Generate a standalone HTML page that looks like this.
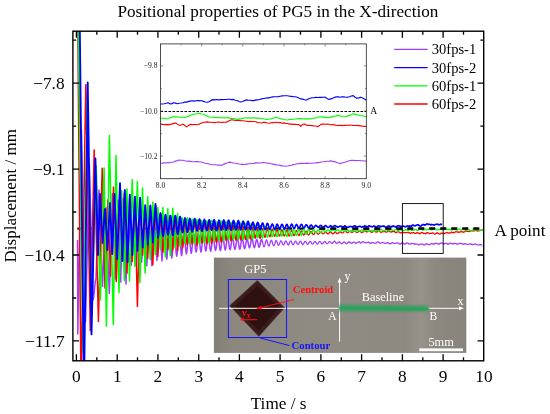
<!DOCTYPE html>
<html lang="en"><head><meta charset="utf-8"><title>Positional properties of PG5 in the X-direction</title>
<style>html,body{margin:0;padding:0;background:#fff}svg{display:block}</style></head>
<body>
<svg width="550" height="414" viewBox="0 0 550 414" font-family="'Liberation Serif', serif">
<rect width="550" height="414" fill="#fff"/>
<defs><clipPath id="cp"><rect x="72.9" y="31.2" width="410.79999999999995" height="329.6"/></clipPath><filter id="bl2" x="-10%" y="-100%" width="120%" height="300%"><feGaussianBlur stdDeviation="1.1"/></filter><filter id="bl3" x="-10%" y="-10%" width="120%" height="120%"><feGaussianBlur stdDeviation="0.5"/></filter><linearGradient id="pg" x1="0" x2="1" y1="0" y2="0"><stop offset="0" stop-color="#827d75"/><stop offset="0.08" stop-color="#8c877f"/><stop offset="0.5" stop-color="#8f8a82"/><stop offset="0.76" stop-color="#8d8880"/><stop offset="0.82" stop-color="#97928a"/><stop offset="0.88" stop-color="#8c877f"/><stop offset="1" stop-color="#88837b"/></linearGradient></defs>
<text x="277.9" y="16.5" font-size="17.15" text-anchor="middle" fill="#000">Positional properties of PG5 in the X-direction</text>
<g clip-path="url(#cp)">
<line x1="77.4" y1="228.6" x2="483.7" y2="228.6" stroke="#000" stroke-width="2.3" stroke-dasharray="5.8 5.2"/>
<path d="M77.5 240.0 L77.6 258.8 L77.6 277.6 L77.7 296.4 L77.8 315.2 L77.8 334.0 L78.5 293.2 L79.3 252.4 L80.0 211.6 L80.8 170.8 L81.5 130.0 L82.3 168.4 L83.1 206.8 L83.9 245.2 L84.7 283.6 L85.5 322.0 L86.3 290.6 L87.1 259.2 L87.8 227.8 L88.6 196.4 L89.4 165.0 L90.1 192.0 L90.8 219.0 L91.6 246.0 L92.3 273.0 L93.0 300.0 L93.6 298.0 L94.2 292.7 L94.8 286.3 L95.4 281.0 L96.0 279.0 L96.6 261.2 L97.2 243.4 L97.8 225.6 L98.4 207.8 L99.0 190.0 L99.7 209.3 L100.4 228.6 L101.1 247.9 L101.8 267.2 L102.5 286.5 L103.2 270.8 L103.9 255.0 L104.6 239.3 L105.4 223.6 L106.1 207.8 L106.7 225.0 L107.4 242.2 L108.0 259.3 L108.7 276.5 L109.3 293.6 L110.0 273.6 L110.6 253.7 L111.2 233.7 L111.8 213.7 L112.4 193.7 L113.0 210.8 L113.5 227.9 L114.1 245.0 L114.7 262.1 L115.3 279.1 L115.8 263.4 L116.4 247.6 L117.0 231.8 L117.5 216.0 L118.1 200.2 L118.6 216.6 L119.1 232.9 L119.7 249.3 L120.2 265.6 L120.7 282.0 L121.2 265.3 L121.8 248.6 L122.3 231.9 L122.8 215.2 L123.4 198.5 L123.9 215.6 L124.4 232.8 L124.9 249.9 L125.5 267.0 L126.0 284.1 L126.5 270.3 L127.0 256.4 L127.6 242.6 L128.1 228.7 L128.6 214.9 L129.1 225.0 L129.7 235.1 L130.2 245.2 L130.7 255.3 L131.2 265.4 L131.8 254.6 L132.3 243.9 L132.8 233.1 L133.3 222.4 L133.8 211.7 L134.4 222.6 L134.9 233.6 L135.4 244.6 L135.9 255.6 L136.4 266.5 L137.0 256.3 L137.5 246.0 L138.0 235.7 L138.5 225.4 L139.0 215.1 L139.5 224.5 L140.1 233.9 L140.6 243.4 L141.1 252.8 L141.6 262.2 L142.1 253.3 L142.6 244.5 L143.2 235.6 L143.7 226.7 L144.2 217.8 L144.7 227.4 L145.2 237.0 L145.7 246.5 L146.2 256.1 L146.8 265.7 L147.3 256.4 L147.8 247.2 L148.3 238.0 L148.8 228.8 L149.3 219.5 L149.8 228.8 L150.3 238.0 L150.9 247.3 L151.4 256.5 L151.9 265.8 L152.4 256.3 L152.9 246.8 L153.4 237.3 L153.9 227.8 L154.4 218.3 L154.9 226.7 L155.4 235.1 L155.9 243.5 L156.4 252.0 L156.9 260.4 L157.4 253.0 L157.9 245.7 L158.4 238.3 L159.0 230.9 L159.5 223.5 L160.0 231.0 L160.5 238.5 L161.0 245.9 L161.5 253.4 L162.0 260.9 L162.5 253.1 L163.0 245.4 L163.5 237.7 L164.0 229.9 L164.4 222.2 L164.9 229.5 L165.4 236.9 L165.9 244.3 L166.4 251.7 L166.9 259.1 L167.4 252.4 L167.9 245.8 L168.4 239.2 L168.9 232.6 L169.4 226.0 L169.9 232.4 L170.4 238.8 L170.9 245.1 L171.4 251.5 L171.8 257.9 L172.3 255.1 L172.8 247.6 L173.3 238.4 L173.8 230.9 L174.3 228.1 L174.8 230.8 L175.3 237.8 L175.7 246.5 L176.2 253.5 L176.7 256.2 L177.2 253.6 L177.7 246.7 L178.2 238.3 L178.7 231.4 L179.1 228.8 L179.6 231.4 L180.1 238.1 L180.6 246.4 L181.1 253.1 L181.6 255.6 L182.0 253.3 L182.5 247.1 L183.0 239.4 L183.5 233.3 L184.0 230.9 L184.5 233.1 L185.0 238.8 L185.4 246.0 L185.9 251.7 L186.4 253.9 L186.9 251.9 L187.4 246.5 L187.9 239.9 L188.4 234.6 L188.8 232.6 L189.3 234.5 L189.8 239.7 L190.3 246.1 L190.8 251.3 L191.3 253.3 L191.7 251.4 L192.2 246.5 L192.7 240.4 L193.2 235.5 L193.7 233.7 L194.2 235.4 L194.7 240.0 L195.1 245.7 L195.6 250.3 L196.1 252.0 L196.6 250.3 L197.1 245.8 L197.6 240.2 L198.1 235.7 L198.5 234.0 L199.0 235.7 L199.5 240.3 L200.0 245.8 L200.5 250.4 L201.0 252.1 L201.4 250.5 L201.9 246.3 L202.4 241.1 L202.9 236.8 L203.4 235.2 L203.9 236.7 L204.4 240.6 L204.8 245.5 L205.3 249.4 L205.8 250.9 L206.3 249.4 L206.8 245.5 L207.3 240.7 L207.8 236.8 L208.2 235.3 L208.7 236.9 L209.2 240.9 L209.7 245.8 L210.2 249.8 L210.7 251.3 L211.1 249.9 L211.6 246.3 L212.1 241.7 L212.6 238.1 L213.1 236.6 L213.6 238.0 L214.1 241.4 L214.5 245.7 L215.0 249.1 L215.5 250.4 L216.0 249.1 L216.5 245.6 L217.0 241.2 L217.5 237.7 L217.9 236.3 L218.4 237.7 L218.9 241.2 L219.4 245.6 L219.9 249.2 L220.4 250.5 L220.8 249.2 L221.3 245.6 L221.8 241.3 L222.3 237.8 L222.8 236.4 L223.3 237.7 L223.8 241.1 L224.2 245.2 L224.7 248.6 L225.2 249.9 L225.7 248.7 L226.2 245.4 L226.7 241.4 L227.2 238.1 L227.6 236.9 L228.1 238.1 L228.6 241.3 L229.1 245.3 L229.6 248.6 L230.1 249.8 L230.5 248.7 L231.0 245.6 L231.5 241.9 L232.0 238.8 L232.5 237.7 L233.0 238.8 L233.5 241.7 L233.9 245.4 L234.4 248.3 L234.9 249.4 L235.4 248.3 L235.9 245.3 L236.4 241.6 L236.9 238.6 L237.3 237.5 L237.8 238.6 L238.3 241.6 L238.8 245.2 L239.3 248.2 L239.8 249.3 L240.2 248.2 L240.7 245.4 L241.2 242.0 L241.7 239.2 L242.2 238.1 L242.7 239.1 L243.2 241.8 L243.6 245.0 L244.1 247.6 L244.6 248.6 L245.1 247.7 L245.6 245.2 L246.1 242.2 L246.6 239.8 L247.0 238.8 L247.5 239.7 L248.0 242.0 L248.5 244.8 L249.0 247.1 L249.5 247.9 L249.9 247.0 L250.4 244.7 L250.9 241.8 L251.4 239.5 L251.9 238.6 L252.4 239.5 L252.9 241.7 L253.3 244.5 L253.8 246.7 L254.3 247.6 L254.8 246.8 L255.3 244.7 L255.8 242.2 L256.3 240.2 L256.7 239.4 L257.2 240.1 L257.7 242.1 L258.2 244.5 L258.7 246.5 L259.2 247.2 L259.6 246.5 L260.1 244.5 L260.6 242.1 L261.1 240.1 L261.6 239.4" fill="none" stroke="#a33cff" stroke-width="1.5" stroke-linejoin="round"/>
<path d="M260.1 244.5 L260.6 242.1 L261.1 240.1 L261.6 239.4 L262.1 240.1 L262.6 242.0 L263.0 244.2 L263.5 246.1 L264.0 246.8 L264.5 246.1 L265.0 244.4 L265.5 242.3 L266.0 240.6 L266.4 239.9 L266.9 240.5 L267.4 242.1 L267.9 244.0 L268.4 245.6 L268.9 246.2 L269.3 245.7 L269.8 244.1 L270.3 242.3 L270.8 240.8 L271.3 240.2 L271.8 240.7 L272.3 242.2 L272.7 243.9 L273.2 245.4 L273.7 245.9 L274.2 245.4 L274.7 244.0 L275.2 242.4 L275.7 241.0 L276.1 240.5 L276.6 241.0 L277.1 242.2 L277.6 243.7 L278.1 244.8 L278.6 245.3 L279.0 244.9 L279.5 243.8 L280.0 242.4 L280.5 241.3 L281.0 240.8 L281.5 241.2 L282.0 242.3 L282.4 243.5 L282.9 244.6 L283.4 245.0 L283.9 244.6 L284.4 243.6 L284.9 242.4 L285.4 241.4 L285.8 241.0 L286.3 241.4 L286.8 242.4 L287.3 243.6 L287.8 244.6 L288.3 245.0 L288.7 244.6 L289.2 243.6 L289.7 242.3 L290.2 241.3 L290.7 240.9 L291.2 241.3 L291.7 242.2 L292.1 243.5 L292.6 244.4 L293.1 244.8 L293.6 244.5 L294.1 243.5 L294.6 242.4 L295.1 241.5 L295.5 241.1 L296.0 241.5 L296.5 242.3 L297.0 243.4 L297.5 244.2 L298.0 244.6 L298.4 244.3 L298.9 243.4 L299.4 242.4 L299.9 241.5 L300.4 241.2 L300.9 241.5 L301.4 242.4 L301.8 243.4 L302.3 244.3 L302.8 244.6 L303.3 244.3 L303.8 243.4 L304.3 242.4 L304.8 241.6 L305.2 241.2 L305.7 241.5 L306.2 242.2 L306.7 243.2 L307.2 244.1 L307.7 244.4 L308.1 244.1 L308.6 243.3 L309.1 242.4 L309.6 241.7 L310.1 241.3 L310.6 241.5 L311.1 242.2 L311.5 243.2 L312.0 244.0 L312.5 244.2 L313.0 243.9 L313.5 243.3 L314.0 242.4 L314.5 241.7 L314.9 241.4 L315.4 241.8 L315.9 242.4 L316.4 243.1 L316.9 243.8 L317.4 244.1 L317.8 243.9 L318.3 243.3 L318.8 242.4 L319.3 241.6 L319.8 241.5 L320.3 241.8 L320.8 242.3 L321.2 243.1 L321.7 243.8 L322.2 243.9 L322.7 243.6 L323.2 242.9 L323.7 242.2 L324.2 241.7 L324.6 241.4 L325.1 241.7 L325.6 242.4 L326.1 242.9 L326.6 243.7 L327.1 243.7 L327.5 243.7 L328.0 243.2 L328.5 242.5 L329.0 241.7 L329.5 241.7 L330.0 241.8 L330.5 242.4 L330.9 242.8 L331.4 243.4 L331.9 243.3 L332.4 243.4 L332.9 242.7 L333.4 242.1 L333.9 241.5 L334.3 241.2 L334.8 241.4 L335.3 241.8 L335.8 242.8 L336.3 243.4 L336.8 243.6 L337.2 243.1 L337.7 242.9 L338.2 242.6 L338.7 242.0 L339.2 241.8 L339.7 242.1 L340.2 242.3 L340.6 243.0 L341.1 243.4 L341.6 243.8 L342.1 243.5 L342.6 243.2 L343.1 242.7 L343.6 242.2 L344.0 241.9 L344.5 242.1 L345.0 242.5 L345.5 243.2 L346.0 243.4 L346.5 243.6 L346.9 243.6 L347.4 243.2 L347.9 242.5 L348.4 241.9 L348.9 241.8 L349.4 242.3 L349.9 242.1 L350.3 242.7 L350.8 242.8 L351.3 243.2 L351.8 243.4 L352.3 243.0 L352.8 242.3 L353.3 242.3 L353.7 242.0 L354.2 242.0 L354.7 242.3 L355.2 243.0 L355.7 243.6 L356.2 243.3 L356.6 243.0 L357.1 242.6 L357.6 242.3 L358.1 242.1 L358.6 242.0 L359.1 241.7 L359.6 241.9 L360.0 242.6 L360.5 243.2 L361.0 242.9 L361.5 242.6 L362.0 242.3 L362.5 241.8 L363.0 241.7 L363.4 241.8 L363.9 242.3 L364.4 242.3 L364.9 242.5 L365.4 242.8 L365.9 242.8 L366.3 242.7 L366.8 242.6 L367.3 242.5 L367.8 242.3 L368.3 241.9 L368.8 242.3 L369.3 242.4 L369.7 243.0 L370.2 243.2 L370.7 243.4 L371.2 243.3 L371.7 242.7 L372.2 242.7 L372.7 242.5 L373.1 242.5 L373.6 242.8 L374.1 243.0 L374.6 243.3 L375.1 243.3 L375.6 243.2 L376.0 243.2 L376.5 242.6 L377.0 242.1 L377.5 241.9 L378.0 242.1 L378.5 241.9 L379.0 242.4 L379.4 242.9 L379.9 243.1 L380.4 243.0 L380.9 243.0 L381.4 242.9 L381.9 242.7 L382.4 242.6 L382.8 242.3 L383.3 242.7 L383.8 243.0 L384.3 243.3 L384.8 243.3 L385.3 243.4 L385.7 243.1 L386.2 243.2 L386.7 243.2 L387.2 242.9 L387.7 242.6 L388.2 242.7 L388.7 243.4 L389.1 243.5 L389.6 243.6 L390.1 244.0 L390.6 243.7 L391.1 243.5 L391.6 243.1 L392.1 242.7 L392.5 242.6 L393.0 242.8 L393.5 243.2 L394.0 243.5 L394.5 243.6 L395.0 243.4 L395.4 243.4 L395.9 243.2 L396.4 242.9 L396.9 242.8 L397.4 242.9 L397.9 243.1 L398.4 243.2 L398.8 243.7 L399.3 243.8 L399.8 244.1 L400.3 244.2 L400.8 243.7 L401.3 243.6 L401.8 243.0 L402.2 243.1 L402.7 243.0 L403.2 243.5 L403.7 243.4 L404.2 244.0 L404.7 243.9 L405.1 244.1 L405.6 244.0 L406.1 243.3 L406.6 242.9 L407.1 243.1 L407.6 243.0 L408.1 243.1 L408.5 243.9 L409.0 243.9 L409.5 244.2 L410.0 244.2 L410.5 243.9 L411.0 243.6 L411.5 243.2 L411.9 243.5 L412.4 243.5 L412.9 243.6 L413.4 243.6 L413.9 243.6 L414.4 244.2 L414.8 244.4 L415.3 244.1 L415.8 243.9 L416.3 244.0 L416.8 244.1 L417.3 244.2 L417.8 244.2 L418.2 244.7 L418.7 244.9 L419.2 244.8 L419.7 244.4 L420.2 244.3 L420.7 244.0 L421.2 244.0 L421.6 244.2 L422.1 244.0 L422.6 244.2 L423.1 244.4 L423.6 244.8 L424.1 245.0 L424.5 244.6 L425.0 244.7 L425.5 244.3 L426.0 243.9 L426.5 243.6 L427.0 244.0 L427.5 244.1 L427.9 244.4 L428.4 244.7 L428.9 244.5 L429.4 244.7 L429.9 244.6 L430.4 244.1 L430.9 243.7 L431.3 243.4 L431.8 243.6 L432.3 243.9 L432.8 243.9 L433.3 244.2 L433.8 244.3 L434.2 243.8 L434.7 243.4 L435.2 243.4 L435.7 243.5 L436.2 243.1 L436.7 243.6 L437.2 243.8 L437.6 243.8 L438.1 243.7 L438.6 244.1 L439.1 243.9 L439.6 244.0 L440.1 243.4 L440.6 243.2 L441.0 242.8 L441.5 242.8 L442.0 243.2 L442.5 243.3 L443.0 243.6 L443.5 243.8 L443.9 244.1 L444.4 243.7 L444.9 243.7 L445.4 243.5 L445.9 243.2 L446.4 243.4 L446.9 243.6 L447.3 243.7 L447.8 244.2 L448.3 244.4 L448.8 243.8 L449.3 243.6 L449.8 243.2 L450.3 243.0 L450.7 243.1 L451.2 243.3 L451.7 243.5 L452.2 243.5 L452.7 244.0 L453.2 243.7 L453.6 243.9 L454.1 243.6 L454.6 243.3 L455.1 243.3 L455.6 243.7 L456.1 243.6 L456.6 244.0 L457.0 244.0 L457.5 244.3 L458.0 243.9 L458.5 243.9 L459.0 243.7 L459.5 243.4 L460.0 243.4 L460.4 243.2 L460.9 243.5 L461.4 243.4 L461.9 243.9 L462.4 243.8 L462.9 244.1 L463.3 244.4 L463.8 244.2 L464.3 243.9 L464.8 243.7 L465.3 244.0 L465.8 243.8 L466.3 243.9 L466.7 244.1 L467.2 244.3 L467.7 244.4 L468.2 244.5 L468.7 244.4 L469.2 244.0 L469.7 243.8 L470.1 243.8 L470.6 244.1 L471.1 244.0 L471.6 244.5 L472.1 244.3 L472.6 244.8 L473.0 244.6 L473.5 244.5 L474.0 244.1 L474.5 244.0 L475.0 244.1 L475.5 243.9 L476.0 244.3 L476.4 244.5 L476.9 244.8 L477.4 244.8 L477.9 244.9 L478.4 245.0 L478.9 244.9 L479.4 244.8 L479.8 244.7 L480.3 244.6 L480.8 244.5 L481.3 245.1 L481.8 245.0 L482.3 245.0" fill="none" stroke="#a33cff" stroke-width="1.25" stroke-linejoin="round"/>
<path d="M77.2 -40.0 L78.0 45.0 L78.7 130.0 L79.5 215.0 L80.2 300.0 L81.0 385.0 L82.0 325.0 L82.9 264.9 L83.9 204.9 L84.8 144.8 L85.8 84.8 L86.7 134.0 L87.6 183.2 L88.5 232.4 L89.4 281.6 L90.3 330.8 L91.1 294.6 L91.9 258.5 L92.6 222.3 L93.4 186.2 L94.2 150.0 L95.0 184.3 L95.9 218.6 L96.7 253.0 L97.6 287.3 L98.4 321.6 L99.2 290.9 L99.9 260.2 L100.7 229.6 L101.4 198.9 L102.2 168.2 L102.8 192.2 L103.3 216.1 L103.9 240.1 L104.4 264.0 L105.0 288.0 L105.6 270.4 L106.1 252.8 L106.7 235.2 L107.2 217.6 L107.8 200.0 L108.3 215.2 L108.9 230.4 L109.4 245.6 L110.0 260.8 L110.5 276.0 L111.1 258.2 L111.7 240.4 L112.3 222.5 L112.9 204.7 L113.5 186.9 L114.1 205.8 L114.6 224.7 L115.2 243.6 L115.8 262.6 L116.3 281.5 L116.9 267.8 L117.4 254.0 L118.0 240.3 L118.5 226.6 L119.1 212.9 L119.6 221.6 L120.1 230.4 L120.7 239.2 L121.2 247.9 L121.7 256.7 L122.2 243.9 L122.8 231.1 L123.3 218.4 L123.8 205.6 L124.4 192.9 L124.9 208.9 L125.4 225.0 L125.9 241.1 L126.5 257.1 L127.0 273.2 L127.5 258.0 L128.0 242.9 L128.6 227.8 L129.1 212.6 L129.6 197.5 L130.1 210.3 L130.6 223.1 L131.2 235.9 L131.7 248.7 L132.2 261.5 L132.7 249.1 L133.3 236.7 L133.8 224.3 L134.3 211.9 L134.8 199.4 L135.3 220.8 L135.9 242.3 L136.4 263.7 L136.9 285.1 L137.4 306.5 L137.9 285.7 L138.5 264.9 L139.0 244.0 L139.5 223.2 L140.0 202.4 L140.5 212.9 L141.0 223.5 L141.6 234.0 L142.1 244.5 L142.6 255.1 L143.1 245.7 L143.6 236.2 L144.1 226.8 L144.6 217.4 L145.2 208.0 L145.7 218.0 L146.2 228.0 L146.7 238.0 L147.2 248.1 L147.7 258.1 L148.2 247.6 L148.8 237.0 L149.3 226.5 L149.8 216.0 L150.3 205.5 L150.8 217.3 L151.3 229.1 L151.8 241.0 L152.3 252.8 L152.8 264.7 L153.3 252.8 L153.8 240.8 L154.4 228.9 L154.9 217.0 L155.4 205.1 L155.9 215.3 L156.4 225.6 L156.9 235.9 L157.4 246.1 L157.9 256.4 L158.4 247.7 L158.9 239.0 L159.4 230.3 L159.9 221.6 L160.4 212.9 L160.9 220.7 L161.4 228.6 L161.9 236.4 L162.4 244.3 L162.9 252.1 L163.4 245.2 L163.9 238.2 L164.4 231.2 L164.9 224.3 L165.4 217.3 L165.9 223.7 L166.4 230.2 L166.9 236.6 L167.4 243.0 L167.9 249.4 L168.4 242.7 L168.8 235.9 L169.3 229.2 L169.8 222.4 L170.3 215.7 L170.8 222.5 L171.3 229.4 L171.8 236.2 L172.3 243.1 L172.8 250.0 L173.3 243.4 L173.7 236.9 L174.2 230.4 L174.7 223.8 L175.2 217.3 L175.7 223.9 L176.2 230.5 L176.7 237.1 L177.1 243.8 L177.6 250.4 L178.1 243.9 L178.6 237.5 L179.1 231.1 L179.6 224.7 L180.1 218.2 L180.5 221.0 L181.0 228.4 L181.5 237.6 L182.0 244.9 L182.5 247.8 L183.0 245.1 L183.4 238.3 L183.9 229.9 L184.4 223.0 L184.9 220.4 L185.4 222.7 L185.9 228.8 L186.4 236.4 L186.8 242.5 L187.3 244.8 L187.8 242.6 L188.3 236.8 L188.8 229.6 L189.3 223.7 L189.8 221.5 L190.2 223.7 L190.7 229.3 L191.2 236.3 L191.7 241.9 L192.2 244.1 L192.7 241.9 L193.1 236.3 L193.6 229.3 L194.1 223.7 L194.6 221.6 L195.1 223.8 L195.6 229.8 L196.1 237.1 L196.5 243.1 L197.0 245.4 L197.5 243.1 L198.0 237.2 L198.5 229.9 L199.0 223.9 L199.5 221.7 L199.9 223.7 L200.4 229.1 L200.9 235.7 L201.4 241.0 L201.9 243.0 L202.4 241.0 L202.8 235.7 L203.3 229.1 L203.8 223.8 L204.3 221.8 L204.8 223.9 L205.3 229.4 L205.8 236.2 L206.2 241.6 L206.7 243.7 L207.2 241.7 L207.7 236.5 L208.2 229.9 L208.7 224.7 L209.2 222.7 L209.6 224.6 L210.1 229.8 L210.6 236.2 L211.1 241.4 L211.6 243.4 L212.1 241.4 L212.5 236.4 L213.0 230.2 L213.5 225.1 L214.0 223.2 L214.5 225.0 L215.0 229.9 L215.5 235.9 L215.9 240.7 L216.4 242.6 L216.9 240.8 L217.4 236.3 L217.9 230.7 L218.4 226.1 L218.9 224.4 L219.3 226.1 L219.8 230.6 L220.3 236.1 L220.8 240.6 L221.3 242.3 L221.8 240.6 L222.2 236.0 L222.7 230.3 L223.2 225.8 L223.7 224.0 L224.2 225.6 L224.7 229.7 L225.2 234.8 L225.6 238.9 L226.1 240.5 L226.6 239.0 L227.1 235.1 L227.6 230.3 L228.1 226.4 L228.6 224.9 L229.0 226.4 L229.5 230.4 L230.0 235.3 L230.5 239.3 L231.0 240.8 L231.5 239.4 L231.9 235.6 L232.4 231.0 L232.9 227.3 L233.4 225.8 L233.9 227.2 L234.4 230.7 L234.9 235.1 L235.3 238.6 L235.8 240.0 L236.3 238.7 L236.8 235.3 L237.3 231.0 L237.8 227.6 L238.3 226.3 L238.7 227.6 L239.2 231.0 L239.7 235.2 L240.2 238.6 L240.7 239.9 L241.2 238.7 L241.6 235.4 L242.1 231.3 L242.6 228.0 L243.1 226.8 L243.6 228.0 L244.1 231.1 L244.6 235.0 L245.0 238.2 L245.5 239.4 L246.0 238.2 L246.5 235.2 L247.0 231.5 L247.5 228.5 L248.0 227.3 L248.4 228.4 L248.9 231.4 L249.4 235.0 L249.9 237.9 L250.4 239.0 L250.9 237.9 L251.3 234.9 L251.8 231.3 L252.3 228.3 L252.8 227.2 L253.3 228.2 L253.8 231.0 L254.3 234.4 L254.7 237.2 L255.2 238.2 L255.7 237.2 L256.2 234.6 L256.7 231.5 L257.2 228.9 L257.7 227.9 L258.1 228.9 L258.6 231.5 L259.1 234.6 L259.6 237.2 L260.1 238.2 L260.6 237.2 L261.0 234.7 L261.5 231.6" fill="none" stroke="#ff0000" stroke-width="1.5" stroke-linejoin="round"/>
<path d="M260.1 238.2 L260.6 237.2 L261.0 234.7 L261.5 231.6 L262.0 229.1 L262.5 228.2 L263.0 229.1 L263.5 231.4 L264.0 234.2 L264.4 236.5 L264.9 237.4 L265.4 236.6 L265.9 234.5 L266.4 231.9 L266.9 229.8 L267.4 229.0 L267.8 229.7 L268.3 231.7 L268.8 234.2 L269.3 236.2 L269.8 236.9 L270.3 236.2 L270.7 234.2 L271.2 231.8 L271.7 229.8 L272.2 229.0 L272.7 229.7 L273.2 231.6 L273.7 233.9 L274.1 235.7 L274.6 236.4 L275.1 235.8 L275.6 234.0 L276.1 231.8 L276.6 230.0 L277.1 229.3 L277.5 230.0 L278.0 231.7 L278.5 233.8 L279.0 235.5 L279.5 236.1 L280.0 235.5 L280.4 233.9 L280.9 231.9 L281.4 230.3 L281.9 229.7 L282.4 230.3 L282.9 231.8 L283.4 233.8 L283.8 235.4 L284.3 236.0 L284.8 235.4 L285.3 233.9 L285.8 232.0 L286.3 230.5 L286.8 229.9 L287.2 230.5 L287.7 232.0 L288.2 233.9 L288.7 235.4 L289.2 236.0 L289.7 235.4 L290.1 234.0 L290.6 232.3 L291.1 230.9 L291.6 230.3 L292.1 230.9 L292.6 232.2 L293.1 233.9 L293.5 235.2 L294.0 235.7 L294.5 235.2 L295.0 233.9 L295.5 232.3 L296.0 231.0 L296.5 230.5 L296.9 231.0 L297.4 232.3 L297.9 233.8 L298.4 235.1 L298.9 235.6 L299.4 235.2 L299.8 234.0 L300.3 232.5 L300.8 231.3 L301.3 230.9 L301.8 231.3 L302.3 232.4 L302.8 233.7 L303.2 234.8 L303.7 235.2 L304.2 234.8 L304.7 233.8 L305.2 232.5 L305.7 231.5 L306.2 231.2 L306.6 231.5 L307.1 232.6 L307.6 233.7 L308.1 234.7 L308.6 235.0 L309.1 234.6 L309.5 233.8 L310.0 232.7 L310.5 231.8 L311.0 231.4 L311.5 231.8 L312.0 232.6 L312.5 233.5 L312.9 234.3 L313.4 234.5 L313.9 234.3 L314.4 233.6 L314.9 232.8 L315.4 232.1 L315.9 231.8 L316.3 232.1 L316.8 232.7 L317.3 233.5 L317.8 234.0 L318.3 234.3 L318.8 234.0 L319.2 233.3 L319.7 232.9 L320.2 232.4 L320.7 232.2 L321.2 232.2 L321.7 232.8 L322.2 233.3 L322.6 233.7 L323.1 233.8 L323.6 233.7 L324.1 233.5 L324.6 232.7 L325.1 232.4 L325.6 232.3 L326.0 232.3 L326.5 232.8 L327.0 233.4 L327.5 233.6 L328.0 234.0 L328.5 233.9 L328.9 233.4 L329.4 232.6 L329.9 232.0 L330.4 232.1 L330.9 232.3 L331.4 232.5 L331.9 233.2 L332.3 233.5 L332.8 233.9 L333.3 233.6 L333.8 233.3 L334.3 232.8 L334.8 232.2 L335.3 232.1 L335.7 232.2 L336.2 232.8 L336.7 233.4 L337.2 233.7 L337.7 233.4 L338.2 233.1 L338.6 233.0 L339.1 232.6 L339.6 232.1 L340.1 231.9 L340.6 231.9 L341.1 232.3 L341.6 232.3 L342.0 232.8 L342.5 233.0 L343.0 232.9 L343.5 232.4 L344.0 231.8 L344.5 231.4 L345.0 231.2 L345.4 231.2 L345.9 231.6 L346.4 232.0 L346.9 232.5 L347.4 232.7 L347.9 232.4 L348.3 232.3 L348.8 231.7 L349.3 231.7 L349.8 231.4 L350.3 231.4 L350.8 231.8 L351.3 232.2 L351.7 232.3 L352.2 232.3 L352.7 232.2 L353.2 231.7 L353.7 231.5 L354.2 231.0 L354.7 231.0 L355.1 231.4 L355.6 231.9 L356.1 232.0 L356.6 232.3 L357.1 232.5 L357.6 232.3 L358.0 232.0 L358.5 231.7 L359.0 231.4 L359.5 231.2 L360.0 231.2 L360.5 231.7 L361.0 232.1 L361.4 232.5 L361.9 232.5 L362.4 232.0 L362.9 232.1 L363.4 232.0 L363.9 231.4 L364.4 231.0 L364.8 231.2 L365.3 231.2 L365.8 231.3 L366.3 231.8 L366.8 231.9 L367.3 231.8 L367.7 231.7 L368.2 231.5 L368.7 231.2 L369.2 231.1 L369.7 231.2 L370.2 231.3 L370.7 231.7 L371.1 232.2 L371.6 232.4 L372.1 232.1 L372.6 232.1 L373.1 231.6 L373.6 231.1 L374.1 230.8 L374.5 230.8 L375.0 231.3 L375.5 231.8 L376.0 232.2 L376.5 231.9 L377.0 232.1 L377.4 231.6 L377.9 231.4 L378.4 231.2 L378.9 230.8 L379.4 231.4 L379.9 231.8 L380.4 231.9 L380.8 232.3 L381.3 232.3 L381.8 231.9 L382.3 231.8 L382.8 231.8 L383.3 231.4 L383.8 231.7 L384.2 231.4 L384.7 231.7 L385.2 231.7 L385.7 232.0 L386.2 232.1 L386.7 232.2 L387.1 231.9 L387.6 231.7 L388.1 231.3 L388.6 231.4 L389.1 231.4 L389.6 231.5 L390.1 231.8 L390.5 232.1 L391.0 232.1 L391.5 231.9 L392.0 231.7 L392.5 231.6 L393.0 231.6 L393.5 231.6 L393.9 231.4 L394.4 231.5 L394.9 232.1 L395.4 232.5 L395.9 232.4 L396.4 232.6 L396.8 232.0 L397.3 232.0 L397.8 231.9 L398.3 231.9 L398.8 232.0 L399.3 232.1 L399.8 232.6 L400.2 232.8 L400.7 232.8 L401.2 232.9 L401.7 232.6 L402.2 232.1 L402.7 232.4 L403.2 232.6 L403.6 232.4 L404.1 232.6 L404.6 232.7 L405.1 232.7 L405.6 232.6 L406.1 232.5 L406.5 232.7 L407.0 232.5 L407.5 232.6 L408.0 232.2 L408.5 232.6 L409.0 232.8 L409.5 232.7 L409.9 233.2 L410.4 233.5 L410.9 233.2 L411.4 232.8 L411.9 232.6 L412.4 232.8 L412.9 232.7 L413.3 232.6 L413.8 232.7 L414.3 233.1 L414.8 233.2 L415.3 233.5 L415.8 233.4 L416.2 233.1 L416.7 232.7 L417.2 232.7 L417.7 233.1 L418.2 232.9 L418.7 233.2 L419.2 233.5 L419.6 233.8 L420.1 233.6 L420.6 233.2 L421.1 232.7 L421.6 232.6 L422.1 232.4 L422.6 232.7 L423.0 233.0 L423.5 233.5 L424.0 233.4 L424.5 233.4 L425.0 233.6 L425.5 233.8 L425.9 233.4 L426.4 233.2 L426.9 232.7 L427.4 232.7 L427.9 232.8 L428.4 232.9 L428.9 233.2 L429.3 233.7 L429.8 233.6 L430.3 233.5 L430.8 233.2 L431.3 233.4 L431.8 233.3 L432.3 232.9 L432.7 232.8 L433.2 233.0 L433.7 233.5 L434.2 233.9 L434.7 234.1 L435.2 233.6 L435.6 233.8 L436.1 233.5 L436.6 233.1 L437.1 232.7 L437.6 233.2 L438.1 233.4 L438.6 233.6 L439.0 233.9 L439.5 234.2 L440.0 234.1 L440.5 233.7 L441.0 233.2 L441.5 233.1 L442.0 233.1 L442.4 233.4 L442.9 233.4 L443.4 233.3 L443.9 233.7 L444.4 233.7 L444.9 233.3 L445.3 233.0 L445.8 232.9 L446.3 232.5 L446.8 232.6 L447.3 232.5 L447.8 233.0 L448.3 233.2 L448.7 232.9 L449.2 233.1 L449.7 232.9 L450.2 232.9 L450.7 232.8 L451.2 232.2 L451.7 232.0 L452.1 232.5 L452.6 232.5 L453.1 232.7 L453.6 232.5 L454.1 232.8 L454.6 232.3 L455.0 232.0 L455.5 231.8 L456.0 231.6 L456.5 231.9 L457.0 232.0 L457.5 231.8 L458.0 232.2 L458.4 232.0 L458.9 232.4 L459.4 232.0 L459.9 232.1 L460.4 231.9 L460.9 231.6 L461.4 231.4 L461.8 231.7 L462.3 231.9 L462.8 232.1 L463.3 232.3 L463.8 231.9 L464.3 232.0 L464.7 231.8 L465.2 231.1 L465.7 230.6 L466.2 231.0 L466.7 231.3 L467.2 231.3 L467.7 231.5 L468.1 231.3 L468.6 231.3 L469.1 231.5 L469.6 231.6 L470.1 231.1 L470.6 230.7 L471.1 230.8 L471.5 230.8 L472.0 230.8 L472.5 230.7 L473.0 231.0 L473.5 230.9 L474.0 231.0 L474.4 230.8 L474.9 230.6 L475.4 230.1 L475.9 230.5 L476.4 230.8 L476.9 230.9 L477.4 230.6 L477.8 231.0 L478.3 230.8 L478.8 230.9 L479.3 230.5 L479.8 230.6 L480.3 230.1 L480.8 230.1 L481.2 230.1 L481.7 230.2 L482.2 230.2 L482.7 230.4 L483.2 230.1" fill="none" stroke="#ff0000" stroke-width="1.25" stroke-linejoin="round"/>
<path d="M77.1 -40.0 L78.3 38.4 L79.5 116.8 L80.6 195.2 L81.8 273.6 L83.0 352.0 L83.8 301.6 L84.7 251.2 L85.5 200.8 L86.4 150.4 L87.2 100.0 L88.1 143.0 L88.9 186.0 L89.8 229.0 L90.6 272.0 L91.5 315.0 L92.4 285.1 L93.4 255.3 L94.3 225.4 L95.3 195.6 L96.2 165.7 L97.0 192.6 L97.8 219.4 L98.7 246.3 L99.5 273.1 L100.3 300.0 L101.1 273.6 L101.8 247.2 L102.6 220.8 L103.3 194.4 L104.1 168.0 L104.6 199.6 L105.0 231.3 L105.5 262.9 L105.9 294.6 L106.4 326.2 L107.0 288.1 L107.6 250.0 L108.2 211.8 L108.8 173.7 L109.4 135.6 L110.2 173.4 L111.0 211.2 L111.7 249.0 L112.5 286.8 L113.3 324.6 L113.8 290.8 L114.4 257.0 L114.9 223.2 L115.5 189.4 L116.0 155.6 L116.6 183.0 L117.2 210.4 L117.8 237.7 L118.4 265.1 L119.0 292.5 L119.5 272.2 L120.1 251.8 L120.6 231.5 L121.1 211.2 L121.6 190.8 L122.2 208.8 L122.7 226.7 L123.2 244.6 L123.8 262.6 L124.3 280.5 L124.8 262.2 L125.3 243.8 L125.9 225.4 L126.4 207.0 L126.9 188.7 L127.4 207.1 L128.0 225.6 L128.5 244.0 L129.0 262.5 L129.5 281.0 L130.1 260.7 L130.6 240.4 L131.1 220.1 L131.6 199.9 L132.2 179.6 L132.7 196.9 L133.2 214.2 L133.7 231.6 L134.2 248.9 L134.8 266.2 L135.3 249.3 L135.8 232.3 L136.3 215.4 L136.8 198.4 L137.4 181.5 L137.9 201.7 L138.4 221.9 L138.9 242.1 L139.4 262.3 L139.9 282.5 L140.5 263.6 L141.0 244.7 L141.5 225.8 L142.0 206.9 L142.5 188.0 L143.0 205.0 L143.6 222.0 L144.1 239.0 L144.6 256.0 L145.1 273.0 L145.6 257.7 L146.1 242.5 L146.6 227.2 L147.2 212.0 L147.7 196.7 L148.2 209.2 L148.7 221.8 L149.2 234.3 L149.7 246.8 L150.2 259.4 L150.7 247.9 L151.2 236.4 L151.8 224.9 L152.3 213.5 L152.8 202.0 L153.3 212.5 L153.8 223.0 L154.3 233.5 L154.8 244.0 L155.3 254.5 L155.8 245.1 L156.3 235.7 L156.8 226.3 L157.3 216.9 L157.8 207.6 L158.3 216.0 L158.8 224.4 L159.3 232.8 L159.8 241.2 L160.3 249.6 L160.8 241.2 L161.3 232.8 L161.8 224.4 L162.3 216.0 L162.8 207.6 L163.3 217.5 L163.8 227.4 L164.3 237.2 L164.8 247.1 L165.3 257.0 L165.8 247.3 L166.3 237.6 L166.8 228.0 L167.3 218.3 L167.8 208.7 L168.3 218.1 L168.8 227.5 L169.3 236.9 L169.8 246.3 L170.3 255.7 L170.7 246.2 L171.2 236.7 L171.7 227.2 L172.2 217.7 L172.7 208.3 L173.2 216.2 L173.7 224.1 L174.2 232.0 L174.7 239.9 L175.1 247.8 L175.6 241.0 L176.1 234.1 L176.6 227.3 L177.1 220.4 L177.6 213.6 L178.1 220.1 L178.5 226.7 L179.0 233.3 L179.5 239.8 L180.0 246.4 L180.5 243.7 L181.0 236.6 L181.5 227.8 L181.9 220.6 L182.4 217.9 L182.9 220.4 L183.4 226.8 L183.9 234.7 L184.4 241.1 L184.8 243.5 L185.3 241.0 L185.8 234.6 L186.3 226.6 L186.8 220.2 L187.3 217.7 L187.8 220.2 L188.2 226.6 L188.7 234.5 L189.2 241.0 L189.7 243.4 L190.2 241.1 L190.7 235.0 L191.2 227.5 L191.6 221.4 L192.1 219.1 L192.6 221.5 L193.1 227.7 L193.6 235.4 L194.1 241.6 L194.5 244.0 L195.0 241.6 L195.5 235.5 L196.0 228.0 L196.5 221.9 L197.0 219.6 L197.5 221.9 L197.9 227.9 L198.4 235.3 L198.9 241.4 L199.4 243.7 L199.9 241.5 L200.4 235.7 L200.9 228.6 L201.3 222.8 L201.8 220.6 L202.3 222.8 L202.8 228.4 L203.3 235.2 L203.8 240.8 L204.2 242.9 L204.7 240.8 L205.2 235.3 L205.7 228.5 L206.2 223.0 L206.7 220.9 L207.2 223.0 L207.6 228.4 L208.1 235.2 L208.6 240.6 L209.1 242.7 L209.6 240.6 L210.1 235.0 L210.6 228.1 L211.0 222.5 L211.5 220.3 L212.0 222.3 L212.5 227.3 L213.0 233.6 L213.5 238.7 L213.9 240.6 L214.4 238.9 L214.9 234.2 L215.4 228.5 L215.9 223.9 L216.4 222.1 L216.9 223.8 L217.3 228.4 L217.8 234.1 L218.3 238.7 L218.8 240.4 L219.3 238.6 L219.8 233.7 L220.3 227.7 L220.7 222.8 L221.2 220.9 L221.7 222.8 L222.2 227.6 L222.7 233.7 L223.2 238.5 L223.6 240.4 L224.1 238.6 L224.6 234.0 L225.1 228.3 L225.6 223.6 L226.1 221.8 L226.6 223.6 L227.0 228.0 L227.5 233.6 L228.0 238.0 L228.5 239.7 L229.0 238.1 L229.5 233.7 L230.0 228.4 L230.4 224.0 L230.9 222.4 L231.4 224.0 L231.9 228.3 L232.4 233.5 L232.9 237.8 L233.3 239.4 L233.8 237.9 L234.3 233.7 L234.8 228.6 L235.3 224.5 L235.8 222.9 L236.3 224.5 L236.7 228.6 L237.2 233.6 L237.7 237.7 L238.2 239.3 L238.7 237.7 L239.2 233.7 L239.7 228.6 L240.1 224.5 L240.6 223.0 L241.1 224.5 L241.6 228.6 L242.1 233.7 L242.6 237.8 L243.0 239.4 L243.5 237.9 L244.0 233.9 L244.5 229.0 L245.0 225.1 L245.5 223.6 L246.0 225.1 L246.4 228.9 L246.9 233.7 L247.4 237.6 L247.9 239.1 L248.4 237.7 L248.9 233.9 L249.4 229.3 L249.8 225.5 L250.3 224.1 L250.8 225.5 L251.3 229.2 L251.8 233.8 L252.3 237.4 L252.7 238.9 L253.2 237.5 L253.7 234.1 L254.2 229.8 L254.7 226.4 L255.2 225.1 L255.7 226.3 L256.1 229.4 L256.6 233.3 L257.1 236.4 L257.6 237.6 L258.1 236.5 L258.6 233.5 L259.1 229.8 L259.5 226.7 L260.0 225.6 L260.5 226.8 L261.0 229.9 L261.5 233.8 L262.0 237.0" fill="none" stroke="#00ff00" stroke-width="1.5" stroke-linejoin="round"/>
<path d="M260.0 225.6 L260.5 226.8 L261.0 229.9 L261.5 233.8 L262.0 237.0 L262.4 238.2 L262.9 237.0 L263.4 234.1 L263.9 230.4 L264.4 227.4 L264.9 226.3 L265.4 227.4 L265.8 230.2 L266.3 233.6 L266.8 236.4 L267.3 237.5 L267.8 236.5 L268.3 234.0 L268.8 230.8 L269.2 228.2 L269.7 227.2 L270.2 228.2 L270.7 230.6 L271.2 233.6 L271.7 236.0 L272.1 236.9 L272.6 236.1 L273.1 233.8 L273.6 231.0 L274.1 228.7 L274.6 227.9 L275.1 228.7 L275.5 231.0 L276.0 233.8 L276.5 236.1 L277.0 236.9 L277.5 236.1 L278.0 234.0 L278.5 231.4 L278.9 229.3 L279.4 228.5 L279.9 229.2 L280.4 231.2 L280.9 233.6 L281.4 235.5 L281.8 236.3 L282.3 235.5 L282.8 233.5 L283.3 231.0 L283.8 229.0 L284.3 228.3 L284.8 229.1 L285.2 231.1 L285.7 233.7 L286.2 235.8 L286.7 236.6 L287.2 235.8 L287.7 233.9 L288.2 231.6 L288.6 229.6 L289.1 228.9 L289.6 229.6 L290.1 231.4 L290.6 233.6 L291.1 235.4 L291.5 236.1 L292.0 235.4 L292.5 233.6 L293.0 231.4 L293.5 229.6 L294.0 228.9 L294.5 229.5 L294.9 231.1 L295.4 233.2 L295.9 234.8 L296.4 235.4 L296.9 234.8 L297.4 233.2 L297.9 231.3 L298.3 229.7 L298.8 229.1 L299.3 229.7 L299.8 231.2 L300.3 233.2 L300.8 234.7 L301.2 235.3 L301.7 234.7 L302.2 233.1 L302.7 231.2 L303.2 229.6 L303.7 229.0 L304.2 229.5 L304.6 230.8 L305.1 232.4 L305.6 233.8 L306.1 234.3 L306.6 233.8 L307.1 232.6 L307.6 231.1 L308.0 229.8 L308.5 229.3 L309.0 229.8 L309.5 230.9 L310.0 232.2 L310.5 233.2 L310.9 233.5 L311.4 233.1 L311.9 232.1 L312.4 230.9 L312.9 229.9 L313.4 229.5 L313.9 229.8 L314.3 230.6 L314.8 231.6 L315.3 232.5 L315.8 232.7 L316.3 232.5 L316.8 231.6 L317.3 230.8 L317.7 230.2 L318.2 229.9 L318.7 230.1 L319.2 230.9 L319.7 231.8 L320.2 232.4 L320.6 232.7 L321.1 232.4 L321.6 231.6 L322.1 230.8 L322.6 230.0 L323.1 229.7 L323.6 230.0 L324.0 230.5 L324.5 231.1 L325.0 231.9 L325.5 232.0 L326.0 231.8 L326.5 231.2 L327.0 230.6 L327.4 229.9 L327.9 229.9 L328.4 230.0 L328.9 230.3 L329.4 230.9 L329.9 231.6 L330.3 231.8 L330.8 231.5 L331.3 231.0 L331.8 230.3 L332.3 229.9 L332.8 229.6 L333.3 229.9 L333.7 230.1 L334.2 230.6 L334.7 231.2 L335.2 231.2 L335.7 231.0 L336.2 230.6 L336.7 230.3 L337.1 230.0 L337.6 229.7 L338.1 229.9 L338.6 230.7 L339.1 231.0 L339.6 231.3 L340.0 231.6 L340.5 231.1 L341.0 230.5 L341.5 230.1 L342.0 229.9 L342.5 230.1 L343.0 230.3 L343.4 230.8 L343.9 231.3 L344.4 231.4 L344.9 231.6 L345.4 231.2 L345.9 230.9 L346.4 230.6 L346.8 230.6 L347.3 230.0 L347.8 229.8 L348.3 230.1 L348.8 230.9 L349.3 231.5 L349.7 231.6 L350.2 231.6 L350.7 231.3 L351.2 230.6 L351.7 230.4 L352.2 230.4 L352.7 230.1 L353.1 230.2 L353.6 231.0 L354.1 231.4 L354.6 231.4 L355.1 231.5 L355.6 230.9 L356.1 230.8 L356.5 230.2 L357.0 230.1 L357.5 230.2 L358.0 230.6 L358.5 230.5 L359.0 230.8 L359.4 231.1 L359.9 231.2 L360.4 231.0 L360.9 230.5 L361.4 230.0 L361.9 229.9 L362.4 230.0 L362.8 230.4 L363.3 230.7 L363.8 231.2 L364.3 231.3 L364.8 231.0 L365.3 230.7 L365.8 230.1 L366.2 230.0 L366.7 230.2 L367.2 230.5 L367.7 230.9 L368.2 231.2 L368.7 231.5 L369.1 231.3 L369.6 231.3 L370.1 230.7 L370.6 230.5 L371.1 230.5 L371.6 230.3 L372.1 230.4 L372.5 230.6 L373.0 231.0 L373.5 231.3 L374.0 231.7 L374.5 231.4 L375.0 231.0 L375.5 230.8 L375.9 230.8 L376.4 230.4 L376.9 230.6 L377.4 230.4 L377.9 230.6 L378.4 231.2 L378.8 231.4 L379.3 230.9 L379.8 230.4 L380.3 229.9 L380.8 229.7 L381.3 229.5 L381.8 229.8 L382.2 229.8 L382.7 230.5 L383.2 230.8 L383.7 231.1 L384.2 230.7 L384.7 230.5 L385.2 230.2 L385.6 229.8 L386.1 229.8 L386.6 229.8 L387.1 230.1 L387.6 230.7 L388.1 230.9 L388.5 230.9 L389.0 230.9 L389.5 230.4 L390.0 230.0 L390.5 229.5 L391.0 229.3 L391.5 229.7 L391.9 230.2 L392.4 230.3 L392.9 230.2 L393.4 230.3 L393.9 230.5 L394.4 230.3 L394.9 229.8 L395.3 229.6 L395.8 229.3 L396.3 229.3 L396.8 229.9 L397.3 230.0 L397.8 230.5 L398.2 230.9 L398.7 230.8 L399.2 230.5 L399.7 230.4 L400.2 230.0 L400.7 230.0 L401.2 229.9 L401.6 230.0 L402.1 230.4 L402.6 230.6 L403.1 230.6 L403.6 230.7 L404.1 230.6 L404.6 230.3 L405.0 229.8 L405.5 229.6 L406.0 230.0 L406.5 229.9 L407.0 230.2 L407.5 230.2 L407.9 230.4 L408.4 230.2 L408.9 230.3 L409.4 230.0 L409.9 229.5 L410.4 229.5 L410.9 229.8 L411.3 230.2 L411.8 230.5 L412.3 230.7 L412.8 230.5 L413.3 230.4 L413.8 229.9 L414.3 229.8 L414.7 229.3 L415.2 229.6 L415.7 229.7 L416.2 229.9 L416.7 230.2 L417.2 230.5 L417.6 230.5 L418.1 230.0 L418.6 229.7 L419.1 229.8 L419.6 229.5 L420.1 229.3 L420.6 229.1 L421.0 229.2 L421.5 229.5 L422.0 229.6 L422.5 229.9 L423.0 230.2 L423.5 230.2 L424.0 229.8 L424.4 229.3 L424.9 229.0 L425.4 229.3 L425.9 229.6 L426.4 229.8 L426.9 229.7 L427.3 229.7 L427.8 229.7 L428.3 229.3 L428.8 229.1 L429.3 229.3 L429.8 229.3 L430.3 229.1 L430.7 229.3 L431.2 229.6 L431.7 229.8 L432.2 229.8 L432.7 229.6 L433.2 229.3 L433.7 229.3 L434.1 228.7 L434.6 228.6 L435.1 228.9 L435.6 229.4 L436.1 229.5 L436.6 229.7 L437.0 229.8 L437.5 230.0 L438.0 229.8 L438.5 229.6 L439.0 229.5 L439.5 229.3 L440.0 229.1 L440.4 229.1 L440.9 229.5 L441.4 229.9 L441.9 229.6 L442.4 229.6 L442.9 229.1 L443.4 229.3 L443.8 229.1 L444.3 228.6 L444.8 228.7 L445.3 229.0 L445.8 229.0 L446.3 229.1 L446.7 229.3 L447.2 229.6 L447.7 229.5 L448.2 229.2 L448.7 229.0 L449.2 229.2 L449.7 229.4 L450.1 229.7 L450.6 229.6 L451.1 230.1 L451.6 229.7 L452.1 229.9 L452.6 229.9 L453.1 229.3 L453.5 229.1 L454.0 229.6 L454.5 229.6 L455.0 229.4 L455.5 229.7 L456.0 229.9 L456.4 229.9 L456.9 230.1 L457.4 230.1 L457.9 229.5 L458.4 229.1 L458.9 229.2 L459.4 229.1 L459.8 229.1 L460.3 229.8 L460.8 229.9 L461.3 229.9 L461.8 229.7 L462.3 229.8 L462.8 229.3 L463.2 229.5 L463.7 229.6 L464.2 229.7 L464.7 229.8 L465.2 229.9 L465.7 229.9 L466.1 230.3 L466.6 230.5 L467.1 230.0 L467.6 229.8 L468.1 229.8 L468.6 229.9 L469.1 229.9 L469.5 230.1 L470.0 230.3 L470.5 230.3 L471.0 230.8 L471.5 230.5 L472.0 230.5 L472.5 230.0 L472.9 229.6 L473.4 229.5 L473.9 230.0 L474.4 230.0 L474.9 229.9 L475.4 230.2 L475.8 230.2 L476.3 229.9 L476.8 229.7 L477.3 229.5 L477.8 229.4 L478.3 229.4 L478.8 229.8 L479.2 230.4 L479.7 230.4 L480.2 230.2 L480.7 230.4 L481.2 230.6 L481.7 230.2 L482.2 230.2 L482.6 230.3 L483.1 230.2" fill="none" stroke="#00ff00" stroke-width="1.25" stroke-linejoin="round"/>
<path d="M79.0 -40.0 L80.0 47.0 L81.0 134.0 L82.0 221.0 L83.0 308.0 L84.0 395.0 L84.7 332.5 L85.5 270.0 L86.2 207.4 L87.0 144.9 L87.7 82.4 L88.5 132.8 L89.2 183.1 L90.0 233.5 L90.7 283.8 L91.5 334.2 L92.3 299.1 L93.1 263.9 L93.8 228.8 L94.6 193.6 L95.4 158.5 L95.9 177.8 L96.4 197.1 L97.0 216.4 L97.5 235.7 L98.0 255.0 L98.4 242.8 L98.8 230.6 L99.2 218.4 L99.6 206.2 L100.0 194.0 L100.5 203.8 L101.0 213.6 L101.5 223.4 L102.0 233.2 L102.5 243.0 L103.0 236.2 L103.5 229.4 L104.0 222.6 L104.5 215.8 L105.0 209.0 L105.5 217.2 L106.0 225.4 L106.5 233.6 L107.0 241.8 L107.5 250.0 L108.0 240.6 L108.5 231.2 L109.0 221.8 L109.5 212.4 L110.0 203.0 L110.4 213.2 L110.9 223.4 L111.3 233.6 L111.8 243.8 L112.2 254.0 L112.7 242.0 L113.1 230.0 L113.6 218.0 L114.0 206.0 L114.5 194.0 L115.0 207.0 L115.6 220.0 L116.1 233.0 L116.7 246.0 L117.2 259.0 L117.8 243.9 L118.3 228.7 L118.9 213.6 L119.4 198.4 L120.0 183.3 L120.5 198.8 L121.0 214.4 L121.4 229.9 L121.9 245.5 L122.4 261.0 L122.9 246.8 L123.4 232.6 L123.8 218.4 L124.3 204.2 L124.8 190.0 L125.4 204.4 L125.9 218.8 L126.5 233.2 L127.0 247.6 L127.6 262.0 L128.0 248.5 L128.5 235.0 L128.9 221.6 L129.4 208.1 L129.8 194.6 L130.3 206.7 L130.8 218.8 L131.3 230.8 L131.8 242.9 L132.3 255.0 L132.8 243.4 L133.3 231.7 L133.9 220.1 L134.4 208.4 L134.9 196.8 L135.4 207.6 L135.9 218.3 L136.5 229.1 L137.0 239.9 L137.5 250.7 L138.0 240.1 L138.5 229.5 L139.1 218.9 L139.6 208.4 L140.1 197.8 L140.6 207.7 L141.1 217.7 L141.6 227.6 L142.2 237.5 L142.7 247.4 L143.2 239.0 L143.7 230.5 L144.2 222.0 L144.7 213.6 L145.2 205.1 L145.8 213.0 L146.3 220.9 L146.8 228.8 L147.3 236.6 L147.8 244.5 L148.3 236.7 L148.8 228.9 L149.3 221.1 L149.9 213.3 L150.4 205.6 L150.9 212.9 L151.4 220.3 L151.9 227.6 L152.4 235.0 L152.9 242.4 L153.4 234.7 L153.9 227.0 L154.4 219.3 L154.9 211.7 L155.5 204.0 L156.0 210.7 L156.5 217.4 L157.0 224.1 L157.5 230.8 L158.0 237.5 L158.5 235.2 L159.0 229.1 L159.5 221.5 L160.0 215.4 L160.5 213.1 L161.0 215.3 L161.5 221.0 L162.0 228.1 L162.5 233.8 L163.0 236.0 L163.5 234.0 L164.0 228.7 L164.5 222.1 L165.0 216.8 L165.5 214.8 L166.0 216.7 L166.5 221.7 L166.9 227.9 L167.4 232.9 L167.9 234.8 L168.4 233.0 L168.9 228.2 L169.4 222.2 L169.9 217.4 L170.4 215.6 L170.9 217.5 L171.4 222.4 L171.9 228.5 L172.4 233.4 L172.8 235.2 L173.3 233.4 L173.8 228.4 L174.3 222.4 L174.8 217.5 L175.3 215.6 L175.8 217.4 L176.3 222.0 L176.7 227.7 L177.2 232.4 L177.7 234.1 L178.2 232.5 L178.7 228.1 L179.2 222.6 L179.6 218.2 L180.1 216.6 L180.6 218.1 L181.1 222.1 L181.6 227.0 L182.1 231.0 L182.6 232.5 L183.0 231.1 L183.5 227.5 L184.0 223.0 L184.5 219.4 L185.0 218.1 L185.5 219.4 L186.0 222.9 L186.4 227.3 L186.9 230.8 L187.4 232.1 L187.9 230.8 L188.4 227.4 L188.9 223.2 L189.3 219.8 L189.8 218.5 L190.3 219.8 L190.8 223.1 L191.3 227.2 L191.8 230.5 L192.3 231.8 L192.7 230.5 L193.2 227.2 L193.7 223.2 L194.2 219.9 L194.7 218.7 L195.2 219.8 L195.7 222.9 L196.1 226.6 L196.6 229.6 L197.1 230.8 L197.6 229.7 L198.1 226.8 L198.6 223.2 L199.0 220.3 L199.5 219.2 L200.0 220.3 L200.5 223.3 L201.0 227.0 L201.5 229.9 L202.0 231.1 L202.4 230.0 L202.9 227.1 L203.4 223.6 L203.9 220.7 L204.4 219.6 L204.9 220.6 L205.4 223.3 L205.8 226.7 L206.3 229.4 L206.8 230.4 L207.3 229.4 L207.8 226.8 L208.3 223.5 L208.7 220.9 L209.2 219.9 L209.7 220.9 L210.2 223.4 L210.7 226.6 L211.2 229.1 L211.7 230.1 L212.1 229.1 L212.6 226.5 L213.1 223.4 L213.6 220.8 L214.1 219.8 L214.6 220.9 L215.1 223.5 L215.5 226.8 L216.0 229.5 L216.5 230.5 L217.0 229.5 L217.5 227.0 L218.0 223.8 L218.4 221.3 L218.9 220.3 L219.4 221.2 L219.9 223.6 L220.4 226.6 L220.9 229.0 L221.4 230.0 L221.8 229.0 L222.3 226.6 L222.8 223.5 L223.3 221.1 L223.8 220.1 L224.3 221.1 L224.8 223.6 L225.2 226.6 L225.7 229.1 L226.2 230.1 L226.7 229.1 L227.2 226.7 L227.7 223.7 L228.1 221.2 L228.6 220.3 L229.1 221.2 L229.6 223.7 L230.1 226.8 L230.6 229.2 L231.1 230.2 L231.5 229.3 L232.0 226.9 L232.5 223.9 L233.0 221.6 L233.5 220.6 L234.0 221.5 L234.5 223.8 L234.9 226.6 L235.4 228.9 L235.9 229.8 L236.4 228.9 L236.9 226.7 L237.4 223.8 L237.8 221.6 L238.3 220.7 L238.8 221.6 L239.3 223.8 L239.8 226.6 L240.3 228.9 L240.8 229.7 L241.2 228.9 L241.7 226.8 L242.2 224.2 L242.7 222.1 L243.2 221.3 L243.7 222.1 L244.2 224.2 L244.6 226.8 L245.1 228.8 L245.6 229.6 L246.1 228.8 L246.6 226.8 L247.1 224.2 L247.5 222.2 L248.0 221.4 L248.5 222.2 L249.0 224.2 L249.5 226.6 L250.0 228.7 L250.5 229.4 L250.9 228.7 L251.4 227.0 L251.9 224.8 L252.4 223.0 L252.9 222.3 L253.4 223.0 L253.9 224.9 L254.3 227.1 L254.8 229.0 L255.3 229.7 L255.8 229.0 L256.3 227.3 L256.8 225.1 L257.2 223.3 L257.7 222.6 L258.2 223.3 L258.7 225.0 L259.2 227.2 L259.7 228.9 L260.2 229.6 L260.6 229.0 L261.1 227.3 L261.6 225.3" fill="none" stroke="#0000ff" stroke-width="1.9" stroke-linejoin="round"/>
<path d="M260.2 229.6 L260.6 229.0 L261.1 227.3 L261.6 225.3 L262.1 223.6 L262.6 223.0 L263.1 223.6 L263.6 225.2 L264.0 227.2 L264.5 228.8 L265.0 229.4 L265.5 228.9 L266.0 227.3 L266.5 225.4 L266.9 223.8 L267.4 223.3 L267.9 223.8 L268.4 225.4 L268.9 227.2 L269.4 228.8 L269.9 229.3 L270.3 228.8 L270.8 227.5 L271.3 225.8 L271.8 224.5 L272.3 224.0 L272.8 224.5 L273.3 225.8 L273.7 227.5 L274.2 228.8 L274.7 229.3 L275.2 228.8 L275.7 227.5 L276.2 225.9 L276.6 224.7 L277.1 224.2 L277.6 224.6 L278.1 225.9 L278.6 227.4 L279.1 228.6 L279.6 229.1 L280.0 228.7 L280.5 227.4 L281.0 226.0 L281.5 224.7 L282.0 224.3 L282.5 224.7 L283.0 225.9 L283.4 227.4 L283.9 228.6 L284.4 229.1 L284.9 228.6 L285.4 227.4 L285.9 225.9 L286.3 224.8 L286.8 224.3 L287.3 224.7 L287.8 225.9 L288.3 227.2 L288.8 228.4 L289.3 228.8 L289.7 228.3 L290.2 227.2 L290.7 225.8 L291.2 224.6 L291.7 224.1 L292.2 224.6 L292.7 225.6 L293.1 227.0 L293.6 228.0 L294.1 228.4 L294.6 228.1 L295.1 227.0 L295.6 225.8 L296.0 224.8 L296.5 224.4 L297.0 224.8 L297.5 225.7 L298.0 226.9 L298.5 227.9 L299.0 228.3 L299.4 227.9 L299.9 226.9 L300.4 225.7 L300.9 224.7 L301.4 224.3 L301.9 224.7 L302.4 225.6 L302.8 226.8 L303.3 227.7 L303.8 228.1 L304.3 227.8 L304.8 226.9 L305.3 225.9 L305.7 225.1 L306.2 224.7 L306.7 225.0 L307.2 225.8 L307.7 226.7 L308.2 227.5 L308.7 227.8 L309.1 227.5 L309.6 226.8 L310.1 226.0 L310.6 225.3 L311.1 225.1 L311.6 225.3 L312.1 225.8 L312.5 226.5 L313.0 227.2 L313.5 227.4 L314.0 227.3 L314.5 226.8 L315.0 226.1 L315.4 225.6 L315.9 225.3 L316.4 225.7 L316.9 226.1 L317.4 226.7 L317.9 227.2 L318.4 227.4 L318.8 227.2 L319.3 226.7 L319.8 226.0 L320.3 225.6 L320.8 225.4 L321.3 225.5 L321.8 226.1 L322.2 226.8 L322.7 227.1 L323.2 227.1 L323.7 226.9 L324.2 226.5 L324.7 226.1 L325.1 225.6 L325.6 225.5 L326.1 225.8 L326.6 226.3 L327.1 226.9 L327.6 227.2 L328.1 227.4 L328.5 227.2 L329.0 227.0 L329.5 226.6 L330.0 226.1 L330.5 225.7 L331.0 226.0 L331.5 226.1 L331.9 226.6 L332.4 227.0 L332.9 227.0 L333.4 226.7 L333.9 226.2 L334.4 225.8 L334.8 225.6 L335.3 225.7 L335.8 226.1 L336.3 226.4 L336.8 226.5 L337.3 226.8 L337.8 227.2 L338.2 227.0 L338.7 226.8 L339.2 226.5 L339.7 226.4 L340.2 226.4 L340.7 226.1 L341.2 226.3 L341.6 226.5 L342.1 226.6 L342.6 227.0 L343.1 226.9 L343.6 226.9 L344.1 226.5 L344.5 225.9 L345.0 225.8 L345.5 226.4 L346.0 226.9 L346.5 227.0 L347.0 227.4 L347.5 227.0 L347.9 227.2 L348.4 227.2 L348.9 226.9 L349.4 226.7 L349.9 226.3 L350.4 226.5 L350.9 226.6 L351.3 226.8 L351.8 226.7 L352.3 226.9 L352.8 226.9 L353.3 226.4 L353.8 226.1 L354.2 225.9 L354.7 226.1 L355.2 225.8 L355.7 226.3 L356.2 226.8 L356.7 226.8 L357.2 227.0 L357.6 226.8 L358.1 226.7 L358.6 226.5 L359.1 226.4 L359.6 226.2 L360.1 226.2 L360.6 226.4 L361.0 226.8 L361.5 227.2 L362.0 226.9 L362.5 226.9 L363.0 226.7 L363.5 226.7 L363.9 226.4 L364.4 226.0 L364.9 225.7 L365.4 226.3 L365.9 226.4 L366.4 226.7 L366.9 226.6 L367.3 226.7 L367.8 226.6 L368.3 226.4 L368.8 225.9 L369.3 225.8 L369.8 226.1 L370.3 226.4 L370.7 226.5 L371.2 226.4 L371.7 226.7 L372.2 226.9 L372.7 226.7 L373.2 226.3 L373.6 225.9 L374.1 226.1 L374.6 226.2 L375.1 226.5 L375.6 226.9 L376.1 227.0 L376.6 226.9 L377.0 226.9 L377.5 226.5 L378.0 226.1 L378.5 225.9 L379.0 225.9 L379.5 226.0 L380.0 226.1 L380.4 226.7 L380.9 226.6 L381.4 226.5 L381.9 226.4 L382.4 226.1 L382.9 226.2 L383.3 226.4 L383.8 226.0 L384.3 226.2 L384.8 226.6 L385.3 227.1 L385.8 227.4 L386.3 227.4 L386.7 227.3 L387.2 226.7 L387.7 226.2 L388.2 226.0 L388.7 226.1 L389.2 226.0 L389.7 226.0 L390.1 226.4 L390.6 226.5 L391.1 226.8 L391.6 227.0 L392.1 226.8 L392.6 226.1 L393.0 226.0 L393.5 226.3 L394.0 226.1 L394.5 226.4 L395.0 226.6 L395.5 227.0 L396.0 227.2 L396.4 227.2 L396.9 226.4 L397.4 225.9 L397.9 225.8 L398.4 225.7 L398.9 225.9 L399.4 225.9 L399.8 226.0 L400.3 226.4 L400.8 226.8 L401.3 226.6 L401.8 226.2 L402.3 225.9 L402.7 225.9 L403.2 226.1 L403.7 226.3 L404.2 226.7 L404.7 226.6 L405.2 226.8 L405.7 226.9 L406.1 226.5 L406.6 226.3 L407.1 225.9 L407.6 226.0 L408.1 226.0 L408.6 226.1 L409.1 225.9 L409.5 226.3 L410.0 226.6 L410.5 226.1 L411.0 226.3 L411.5 225.8 L412.0 225.4 L412.4 225.1 L412.9 225.5 L413.4 225.2 L413.9 225.6 L414.4 225.7 L414.9 225.9 L415.4 225.7 L415.8 225.4 L416.3 225.2 L416.8 225.1 L417.3 224.8 L417.8 224.8 L418.3 224.7 L418.8 225.4 L419.2 225.5 L419.7 225.9 L420.2 226.2 L420.7 226.1 L421.2 225.9 L421.7 225.5 L422.1 224.9 L422.6 224.5 L423.1 224.5 L423.6 224.8 L424.1 224.7 L424.6 225.1 L425.1 225.0 L425.5 224.7 L426.0 224.6 L426.5 224.2 L427.0 223.8 L427.5 224.0 L428.0 224.3 L428.5 224.3 L428.9 224.2 L429.4 224.2 L429.9 224.6 L430.4 224.8 L430.9 224.8 L431.4 224.6 L431.8 224.4 L432.3 224.7 L432.8 224.8 L433.3 224.9 L433.8 225.0 L434.3 225.1 L434.8 224.8 L435.2 224.6 L435.7 224.4 L436.2 224.3 L436.7 224.2 L437.2 224.4 L437.7 224.2 L438.2 224.4 L438.6 224.5 L439.1 224.8 L439.6 224.7 L440.1 224.6 L440.6 224.2 L441.1 224.5 L441.5 224.2 L442.0 224.0" fill="none" stroke="#0000ff" stroke-width="1.65" stroke-linejoin="round"/>
<line x1="319.4" y1="228.6" x2="483.7" y2="228.6" stroke="#000" stroke-width="2.3" stroke-dasharray="5.8 5.2"/>
</g>
<rect x="72.9" y="31.2" width="410.8" height="329.6" fill="none" stroke="#000" stroke-width="1.4"/>
<path d="M76.4 360.8 v-6.6 M76.4 31.2 v6.6 M96.8 360.8 v-3.6 M96.8 31.2 v3.6 M117.2 360.8 v-6.6 M117.2 31.2 v6.6 M137.5 360.8 v-3.6 M137.5 31.2 v3.6 M157.9 360.8 v-6.6 M157.9 31.2 v6.6 M178.3 360.8 v-3.6 M178.3 31.2 v3.6 M198.7 360.8 v-6.6 M198.7 31.2 v6.6 M219.0 360.8 v-3.6 M219.0 31.2 v3.6 M239.4 360.8 v-6.6 M239.4 31.2 v6.6 M259.8 360.8 v-3.6 M259.8 31.2 v3.6 M280.1 360.8 v-6.6 M280.1 31.2 v6.6 M300.5 360.8 v-3.6 M300.5 31.2 v3.6 M320.9 360.8 v-6.6 M320.9 31.2 v6.6 M341.3 360.8 v-3.6 M341.3 31.2 v3.6 M361.6 360.8 v-6.6 M361.6 31.2 v6.6 M382.0 360.8 v-3.6 M382.0 31.2 v3.6 M402.4 360.8 v-6.6 M402.4 31.2 v6.6 M422.8 360.8 v-3.6 M422.8 31.2 v3.6 M443.1 360.8 v-6.6 M443.1 31.2 v6.6 M463.5 360.8 v-3.6 M463.5 31.2 v3.6 M72.9 40.2 h3.3 M483.7 40.2 h-3.3 M72.9 83.1 h6.2 M483.7 83.1 h-6.2 M72.9 126.1 h3.3 M483.7 126.1 h-3.3 M72.9 169.1 h6.2 M483.7 169.1 h-6.2 M72.9 212.0 h3.3 M483.7 212.0 h-3.3 M72.9 255.0 h6.2 M483.7 255.0 h-6.2 M72.9 298.0 h3.3 M483.7 298.0 h-3.3 M72.9 340.9 h6.2 M483.7 340.9 h-6.2" stroke="#000" stroke-width="1.3" fill="none"/>
<text x="76.4" y="381.7" font-size="17.3" text-anchor="middle">0</text>
<text x="117.2" y="381.7" font-size="17.3" text-anchor="middle">1</text>
<text x="157.9" y="381.7" font-size="17.3" text-anchor="middle">2</text>
<text x="198.7" y="381.7" font-size="17.3" text-anchor="middle">3</text>
<text x="239.4" y="381.7" font-size="17.3" text-anchor="middle">4</text>
<text x="280.1" y="381.7" font-size="17.3" text-anchor="middle">5</text>
<text x="320.9" y="381.7" font-size="17.3" text-anchor="middle">6</text>
<text x="361.6" y="381.7" font-size="17.3" text-anchor="middle">7</text>
<text x="402.4" y="381.7" font-size="17.3" text-anchor="middle">8</text>
<text x="443.1" y="381.7" font-size="17.3" text-anchor="middle">9</text>
<text x="483.9" y="381.7" font-size="17.3" text-anchor="middle">10</text>
<text x="64.6" y="88.9" font-size="17.3" text-anchor="end">−7.8</text>
<text x="64.6" y="174.9" font-size="17.3" text-anchor="end">−9.1</text>
<text x="64.6" y="260.8" font-size="17.3" text-anchor="end">−10.4</text>
<text x="64.6" y="346.7" font-size="17.3" text-anchor="end">−11.7</text>
<text x="278.6" y="409.3" font-size="17.2" text-anchor="middle">Time / s</text>
<text transform="translate(16.4 195.8) rotate(-90)" font-size="17.05" text-anchor="middle">Displacement / mm</text>
<text x="494.6" y="235.9" font-size="17.1">A point</text>
<rect x="402.4" y="203.6" width="40.8" height="49.8" fill="none" stroke="#000" stroke-width="0.9"/>
<line x1="394.2" x2="427.6" y1="49.4" y2="49.4" stroke="#a33cff" stroke-width="1.3"/>
<text x="431.7" y="54.2" font-size="14.6">30fps-1</text>
<line x1="394.2" x2="427.6" y1="67.6" y2="67.6" stroke="#0000ff" stroke-width="1.3"/>
<text x="431.7" y="72.5" font-size="14.6">30fps-2</text>
<line x1="394.2" x2="427.6" y1="85.8" y2="85.8" stroke="#00ff00" stroke-width="1.3"/>
<text x="431.7" y="90.7" font-size="14.6">60fps-1</text>
<line x1="394.2" x2="427.6" y1="104.0" y2="104.0" stroke="#ff0000" stroke-width="1.3"/>
<text x="431.7" y="108.9" font-size="14.6">60fps-2</text>
<rect x="160.5" y="43.9" width="205.8" height="134.8" fill="#fff" stroke="none"/>
<line x1="160.5" x2="366.3" y1="111.5" y2="111.5" stroke="#000" stroke-width="1" stroke-dasharray="2.6 1.4"/>
<path d="M160.5 163.2 L162.4 163.1 L164.2 162.8 L166.1 163.0 L168.0 162.6 L169.9 162.7 L171.7 162.3 L173.6 162.0 L175.5 161.1 L177.3 160.6 L179.2 160.0 L181.1 160.2 L183.0 160.3 L184.8 160.8 L186.7 161.2 L188.6 161.1 L190.4 161.4 L192.3 161.7 L194.2 161.7 L196.0 161.6 L197.9 161.6 L199.8 162.0 L201.7 162.0 L203.5 162.8 L205.4 163.3 L207.3 163.5 L209.1 164.0 L211.0 164.5 L212.9 164.7 L214.8 164.7 L216.6 165.0 L218.5 165.1 L220.4 165.0 L222.2 165.2 L224.1 164.1 L226.0 163.3 L227.9 162.8 L229.7 162.1 L231.6 162.5 L233.5 163.0 L235.3 163.3 L237.2 163.5 L239.1 164.0 L240.9 164.3 L242.8 164.3 L244.7 164.5 L246.6 164.1 L248.4 163.8 L250.3 163.7 L252.2 163.5 L254.0 163.4 L255.9 162.9 L257.8 162.9 L259.7 163.0 L261.5 162.7 L263.4 162.5 L265.3 162.7 L267.1 163.1 L269.0 163.3 L270.9 163.8 L272.8 164.1 L274.6 164.4 L276.5 164.9 L278.4 165.0 L280.2 165.4 L282.1 165.9 L284.0 166.0 L285.9 166.2 L287.7 166.0 L289.6 165.5 L291.5 165.3 L293.3 164.6 L295.2 164.3 L297.1 163.7 L298.9 163.6 L300.8 163.4 L302.7 163.4 L304.6 163.5 L306.4 163.1 L308.3 163.4 L310.2 163.2 L312.0 163.2 L313.9 163.0 L315.8 162.9 L317.7 162.6 L319.5 162.4 L321.4 162.0 L323.3 161.8 L325.1 161.5 L327.0 161.3 L328.9 161.2 L330.8 160.9 L332.6 161.2 L334.5 161.6 L336.4 162.3 L338.2 163.0 L340.1 163.6 L342.0 163.0 L343.8 162.5 L345.7 162.0 L347.6 161.2 L349.5 160.7 L351.3 160.4 L353.2 160.3 L355.1 160.6 L356.9 160.5 L358.8 160.5 L360.7 160.7 L362.6 160.7 L364.4 161.0 L366.3 161.1" fill="none" stroke="#a33cff" stroke-width="1.15" stroke-linejoin="round"/>
<path d="M160.5 124.1 L162.4 124.4 L164.2 124.7 L166.1 124.4 L168.0 124.9 L169.9 124.4 L171.7 124.1 L173.6 123.4 L175.5 123.1 L177.3 124.1 L179.2 125.4 L181.1 125.0 L183.0 124.1 L184.8 125.5 L186.7 126.9 L188.6 125.4 L190.4 124.3 L192.3 124.6 L194.2 124.5 L196.0 124.5 L197.9 124.7 L199.8 123.7 L201.7 123.0 L203.5 122.2 L205.4 122.1 L207.3 121.9 L209.1 122.3 L211.0 122.2 L212.9 122.5 L214.8 122.6 L216.6 122.3 L218.5 122.1 L220.4 122.3 L222.2 122.4 L224.1 122.2 L226.0 122.1 L227.9 121.6 L229.7 120.5 L231.6 119.8 L233.5 120.0 L235.3 120.5 L237.2 120.3 L239.1 120.4 L240.9 120.6 L242.8 120.7 L244.7 121.0 L246.6 121.3 L248.4 121.6 L250.3 121.3 L252.2 121.5 L254.0 121.5 L255.9 121.8 L257.8 122.6 L259.7 122.8 L261.5 123.0 L263.4 122.3 L265.3 122.4 L267.1 123.0 L269.0 123.3 L270.9 122.7 L272.8 122.6 L274.6 122.7 L276.5 122.2 L278.4 122.7 L280.2 122.4 L282.1 123.3 L284.0 122.9 L285.9 123.5 L287.7 123.5 L289.6 124.1 L291.5 124.1 L293.3 124.4 L295.2 124.4 L297.1 124.5 L298.9 124.6 L300.8 126.3 L302.7 124.4 L304.6 124.0 L306.4 125.3 L308.3 125.4 L310.2 125.5 L312.0 125.6 L313.9 126.0 L315.8 126.0 L317.7 126.7 L319.5 125.6 L321.4 124.1 L323.3 124.0 L325.1 124.3 L327.0 124.1 L328.9 124.3 L330.8 124.7 L332.6 124.6 L334.5 124.9 L336.4 125.5 L338.2 125.4 L340.1 125.2 L342.0 125.6 L343.8 125.4 L345.7 125.4 L347.6 125.2 L349.5 125.0 L351.3 125.2 L353.2 125.4 L355.1 125.5 L356.9 125.4 L358.8 125.6 L360.7 125.9 L362.6 126.3 L364.4 126.4 L366.3 126.5" fill="none" stroke="#ff0000" stroke-width="1.15" stroke-linejoin="round"/>
<path d="M160.5 118.4 L162.4 118.2 L164.2 118.3 L166.1 118.9 L168.0 118.5 L169.9 117.8 L171.7 117.4 L173.6 116.7 L175.5 116.9 L177.3 116.7 L179.2 117.2 L181.1 117.0 L183.0 117.2 L184.8 117.5 L186.7 116.8 L188.6 116.2 L190.4 115.4 L192.3 114.4 L194.2 114.2 L196.0 113.8 L197.9 113.7 L199.8 113.6 L201.7 114.0 L203.5 114.3 L205.4 115.3 L207.3 116.1 L209.1 117.0 L211.0 117.2 L212.9 117.3 L214.8 117.4 L216.6 117.3 L218.5 117.8 L220.4 117.5 L222.2 117.8 L224.1 117.9 L226.0 117.8 L227.9 117.5 L229.7 118.1 L231.6 118.4 L233.5 118.5 L235.3 118.9 L237.2 119.5 L239.1 118.9 L240.9 119.0 L242.8 118.4 L244.7 118.0 L246.6 117.7 L248.4 117.9 L250.3 118.1 L252.2 117.8 L254.0 117.9 L255.9 118.1 L257.8 118.1 L259.7 118.3 L261.5 118.6 L263.4 118.8 L265.3 119.2 L267.1 119.4 L269.0 119.0 L270.9 119.0 L272.8 118.2 L274.6 117.8 L276.5 117.3 L278.4 118.0 L280.2 118.6 L282.1 119.0 L284.0 119.5 L285.9 119.8 L287.7 120.0 L289.6 119.5 L291.5 119.5 L293.3 119.2 L295.2 119.0 L297.1 118.9 L298.9 118.6 L300.8 118.6 L302.7 118.8 L304.6 118.9 L306.4 118.9 L308.3 118.7 L310.2 118.9 L312.0 118.5 L313.9 118.2 L315.8 117.9 L317.7 117.5 L319.5 116.8 L321.4 116.9 L323.3 117.1 L325.1 117.4 L327.0 117.7 L328.9 117.6 L330.8 117.1 L332.6 116.6 L334.5 116.3 L336.4 115.9 L338.2 115.5 L340.1 115.9 L342.0 116.2 L343.8 116.3 L345.7 116.7 L347.6 115.9 L349.5 115.4 L351.3 114.7 L353.2 113.7 L355.1 114.1 L356.9 114.9 L358.8 115.2 L360.7 115.5 L362.6 115.7 L364.4 116.5 L366.3 116.5" fill="none" stroke="#00ff00" stroke-width="1.15" stroke-linejoin="round"/>
<path d="M160.5 104.0 L162.4 104.0 L164.2 103.7 L166.1 103.3 L168.0 102.8 L169.9 103.8 L171.7 103.8 L173.6 102.7 L175.5 103.1 L177.3 103.7 L179.2 103.2 L181.1 103.0 L183.0 102.7 L184.8 102.1 L186.7 102.1 L188.6 101.4 L190.4 101.1 L192.3 100.8 L194.2 101.1 L196.0 100.8 L197.9 100.6 L199.8 100.5 L201.7 100.8 L203.5 101.4 L205.4 102.0 L207.3 102.3 L209.1 101.7 L211.0 100.4 L212.9 99.6 L214.8 99.9 L216.6 99.5 L218.5 99.9 L220.4 99.6 L222.2 99.6 L224.1 99.5 L226.0 99.5 L227.9 99.3 L229.7 99.2 L231.6 99.6 L233.5 99.4 L235.3 100.3 L237.2 100.5 L239.1 101.5 L240.9 102.0 L242.8 101.5 L244.7 100.6 L246.6 99.9 L248.4 100.2 L250.3 100.2 L252.2 100.6 L254.0 100.6 L255.9 99.9 L257.8 99.9 L259.7 99.5 L261.5 98.9 L263.4 98.5 L265.3 98.2 L267.1 97.9 L269.0 97.9 L270.9 97.3 L272.8 96.9 L274.6 96.7 L276.5 96.7 L278.4 96.6 L280.2 96.2 L282.1 95.9 L284.0 95.7 L285.9 95.7 L287.7 95.7 L289.6 96.2 L291.5 96.4 L293.3 96.7 L295.2 96.8 L297.1 97.3 L298.9 98.0 L300.8 98.9 L302.7 99.1 L304.6 99.8 L306.4 100.1 L308.3 99.1 L310.2 98.2 L312.0 97.8 L313.9 97.7 L315.8 97.4 L317.7 97.5 L319.5 97.4 L321.4 97.4 L323.3 97.3 L325.1 97.1 L327.0 98.5 L328.9 99.5 L330.8 98.9 L332.6 98.3 L334.5 97.4 L336.4 96.9 L338.2 96.9 L340.1 97.2 L342.0 96.8 L343.8 96.8 L345.7 97.2 L347.6 97.1 L349.5 96.7 L351.3 96.0 L353.2 95.6 L355.1 97.2 L356.9 98.3 L358.8 97.9 L360.7 97.3 L362.6 98.0 L364.4 98.9 L366.3 100.0" fill="none" stroke="#0000ff" stroke-width="1.15" stroke-linejoin="round"/>
<rect x="160.5" y="43.9" width="205.8" height="134.8" fill="none" stroke="#222" stroke-width="0.8"/>
<path d="M181.1 178.7 v-1.5 M181.1 43.9 v1.5 M201.7 178.7 v-2.6 M201.7 43.9 v2.6 M222.2 178.7 v-1.5 M222.2 43.9 v1.5 M242.8 178.7 v-2.6 M242.8 43.9 v2.6 M263.4 178.7 v-1.5 M263.4 43.9 v1.5 M284.0 178.7 v-2.6 M284.0 43.9 v2.6 M304.6 178.7 v-1.5 M304.6 43.9 v1.5 M325.1 178.7 v-2.6 M325.1 43.9 v2.6 M345.7 178.7 v-1.5 M345.7 43.9 v1.5 M160.5 65.9 h2.6 M366.3 65.9 h-2.6 M160.5 88.4 h1.5 M366.3 88.4 h-1.5 M160.5 111.0 h2.6 M366.3 111.0 h-2.6 M160.5 133.5 h1.5 M366.3 133.5 h-1.5 M160.5 156.1 h2.6 M366.3 156.1 h-2.6" stroke="#444" stroke-width="0.6" fill="none"/>
<text x="160.5" y="188.3" font-size="7.6" text-anchor="middle" fill="#222">8.0</text>
<text x="201.7" y="188.3" font-size="7.6" text-anchor="middle" fill="#222">8.2</text>
<text x="242.8" y="188.3" font-size="7.6" text-anchor="middle" fill="#222">8.4</text>
<text x="284.0" y="188.3" font-size="7.6" text-anchor="middle" fill="#222">8.6</text>
<text x="325.1" y="188.3" font-size="7.6" text-anchor="middle" fill="#222">8.8</text>
<text x="366.3" y="188.3" font-size="7.6" text-anchor="middle" fill="#222">9.0</text>
<text x="157.5" y="68.4" font-size="7.6" text-anchor="end" fill="#222">−9.8</text>
<text x="157.5" y="113.5" font-size="7.6" text-anchor="end" fill="#222">−10.0</text>
<text x="157.5" y="158.6" font-size="7.6" text-anchor="end" fill="#222">−10.2</text>
<text x="370.3" y="114.3" font-size="9.6" fill="#111">A</text>
<rect x="213.9" y="257.6" width="252.4" height="95.3" fill="url(#pg)"/>
<polygon points="257.3,280.6 284.4,307.8 258.8,336.3 229.8,305.7" fill="#3a1d1a" stroke="#4b302b" stroke-width="0.9" stroke-linejoin="round" filter="url(#bl3)"/>
<polygon points="257.6,285.5 279.4,307.8 258.6,331 235,306" fill="#2a100e" opacity="0.75" filter="url(#bl3)"/>
<path d="M219 308.3 H461 M339.6 341.6 V281" stroke="#fff" stroke-width="1" fill="none"/>
<path d="M464 308.3 l-5 -2 v4 z M339.6 277.4 l-2 5 h4 z" fill="#fff"/>
<polygon points="339,304.6 426,305.6 430,309.2 426,311.6 339,311.6" fill="#3f9a66" filter="url(#bl2)" opacity="0.95"/>
<line x1="340.5" x2="427.5" y1="307.9" y2="309" stroke="#1fa957" stroke-width="2.2" stroke-linecap="round"/>
<rect x="228.4" y="279.5" width="58.2" height="58" fill="none" stroke="#1414ff" stroke-width="1"/>
<line x1="259.7" y1="337.8" x2="289.5" y2="345.6" stroke="#1414ff" stroke-width="1"/>
<line x1="258.5" y1="308.2" x2="294" y2="299.6" stroke="#ff1010" stroke-width="0.9"/>
<path d="M256 308.8 l5.2 -3 l0.9 3.6 z" fill="#ff1010"/>
<line x1="241.5" y1="319.7" x2="257.3" y2="319.7" stroke="#ff1010" stroke-width="1"/>
<path d="M239.8 319.7 l4.2 -1.7 v3.4 z" fill="#ff1010"/>
<text x="241.8" y="316.2" font-size="10" font-weight="bold" fill="#ff1010">v<tspan font-size="7.2" dy="2">x</tspan></text>
<text x="292.8" y="293.4" font-size="10.6" font-weight="bold" fill="#ff1010">Centroid</text>
<text x="291.6" y="349.4" font-size="10.7" font-weight="bold" fill="#1414ff">Contour</text>
<text x="244.3" y="273.2" font-size="12.4" fill="#fff">GP5</text>
<text x="361.8" y="300.8" font-size="12.3" fill="#fff">Baseline</text>
<text x="328.2" y="320.2" font-size="11.5" fill="#fff">A</text>
<text x="429.6" y="319.8" font-size="11.5" fill="#fff">B</text>
<text x="344.5" y="279.5" font-size="12" fill="#fff">y</text>
<text x="457.5" y="305" font-size="12" fill="#fff">x</text>
<text x="428.4" y="345.5" font-size="12.4" fill="#fff">5mm</text>
<rect x="419.3" y="348.4" width="43.7" height="2.8" fill="#fff"/>
</svg>
</body></html>
